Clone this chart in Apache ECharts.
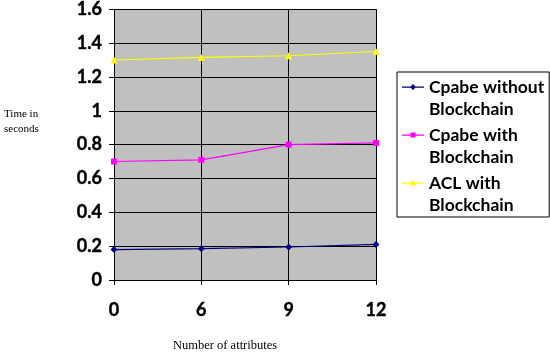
<!DOCTYPE html>
<html><head><meta charset="utf-8">
<script src="https://cdn.jsdelivr.net/npm/echarts@6/dist/echarts.min.js"></script>
<style>html,body{margin:0;padding:0;background:#fff}#c{width:550px;height:354px}</style>
</head><body><div id="c"></div>
<script>
const categories = ['0', '6', '9', '12'];
const cpabeWithout = [0.18, 0.185, 0.195, 0.21];
const cpabeWith = [0.70, 0.71, 0.80, 0.81];
const aclWith = [1.30, 1.315, 1.325, 1.35];
const seriesNames = ['Cpabe without\nBlockchain', 'Cpabe with\nBlockchain', 'ACL with\nBlockchain'];
const yTitle = 'Time in\nseconds';
const xTitle = 'Number of attributes';

// legend icons: line + marker placed beside the first text line
const anchor = 'M0,0L0,0M22,44L22,44';
const lineBar = 'M0,10.5L22,10.5L22,11.7L0,11.7Z';
const icons = [
  'path://' + anchor + lineBar + 'M11,8L14,11L11,14L8,11Z',
  'path://' + anchor + lineBar + 'M8.5,8.5L13.5,8.5L13.5,13.5L8.5,13.5Z',
  'path://' + anchor + lineBar + 'M11,7.5L14.5,13.5L7.5,13.5Z'
];

const chart = echarts.init(document.getElementById('c'), null, {renderer: 'canvas'});
const labelFont = {fontFamily: 'Lato', fontWeight: 'bold', fontSize: 18, color: '#000', textBorderColor: '#000', textBorderWidth: 0.4};
chart.setOption({
  animation: false,
  backgroundColor: '#fff',
  title: [
    {text: yTitle, left: 4, top: 107, padding: 0, textStyle: {fontFamily: 'Liberation Serif', fontWeight: 'normal', fontSize: 11, lineHeight: 14.5, color: '#000'}},
    {text: xTitle, left: 173, top: 339, padding: 0, textStyle: {fontFamily: 'Liberation Serif', fontWeight: 'normal', fontSize: 12.5, color: '#000'}}
  ],
  grid: {left: 114, right: 174, top: 8, bottom: 74, show: true, backgroundColor: '#c0c0c0', borderWidth: 0},
  legend: {
    orient: 'vertical', left: 397, top: 72,
    padding: [4, 5, 1, 5], itemGap: 4, itemWidth: 22, itemHeight: 44,
    borderColor: '#000', borderWidth: 1, backgroundColor: '#fff',
    itemStyle: {borderWidth: 0},
    textStyle: {fontFamily: 'Lato', fontWeight: 'bold', fontSize: 17.5, lineHeight: 22, color: '#000'},
    data: seriesNames.map((n, i) => ({name: n, icon: icons[i]}))
  },
  xAxis: {
    type: 'category', data: categories, boundaryGap: false,
    axisLine: {lineStyle: {color: '#000', width: 1}},
    axisTick: {show: true, lineStyle: {color: '#000'}, length: 5},
    axisLabel: Object.assign({margin: 21}, labelFont),
    splitLine: {show: true, lineStyle: {color: '#000', width: 1}}
  },
  yAxis: {
    type: 'value', min: 0, max: 1.6, interval: 0.2,
    axisLine: {show: true, lineStyle: {color: '#000', width: 1}},
    axisTick: {show: true, lineStyle: {color: '#000'}, length: 5},
    axisLabel: Object.assign({margin: 12, formatter: v => String(Math.round(v * 10) / 10)}, labelFont),
    splitLine: {show: true, lineStyle: {color: '#000', width: 1}}
  },
  series: [
    {name: seriesNames[0], type: 'line', data: cpabeWithout, symbol: 'diamond', symbolSize: 7, color: '#000080', lineStyle: {width: 1.2}},
    {name: seriesNames[1], type: 'line', data: cpabeWith, symbol: 'rect', symbolSize: 6, color: '#ff00ff', lineStyle: {width: 1.2}},
    {name: seriesNames[2], type: 'line', data: aclWith, symbol: 'triangle', symbolSize: 7, color: '#ffff00', lineStyle: {width: 1.2}}
  ]
});
</script></body></html>
